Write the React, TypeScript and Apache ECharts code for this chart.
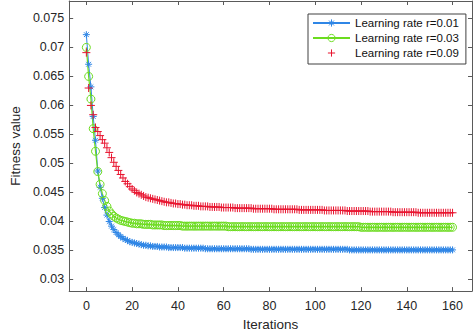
import React, { useEffect, useRef } from "react";
import * as echarts from "echarts";

const iterations: number[] = Array.from({ length: 161 }, (_, i) => i);

const rate001: number[] = [
  0.0722, 0.0671, 0.0632, 0.0581, 0.054, 0.0487, 0.0459, 0.044, 0.0424, 0.0411,
  0.04, 0.0392, 0.0386, 0.0381, 0.0377, 0.0374, 0.0371, 0.0369, 0.0367, 0.0365,
  0.0364, 0.0363, 0.0362, 0.0361, 0.036, 0.0359, 0.0359, 0.0358, 0.0358, 0.0357,
  0.0357, 0.0357, 0.0356, 0.0356, 0.0356, 0.0356, 0.0355, 0.0355, 0.0355, 0.0355,
  0.0355, 0.0355, 0.0355, 0.0354, 0.0354, 0.0354, 0.0354, 0.0354, 0.0354, 0.0354,
  0.0354, 0.0354, 0.0353, 0.0353, 0.0353, 0.0353, 0.0353, 0.0353, 0.0353, 0.0353,
  0.0353, 0.0353, 0.0353, 0.0353, 0.0353, 0.0353, 0.0353, 0.0353, 0.0353, 0.0353,
  0.0353, 0.0353, 0.0352, 0.0352, 0.0352, 0.0352, 0.0352, 0.0352, 0.0352, 0.0352,
  0.0352, 0.0352, 0.0352, 0.0352, 0.0352, 0.0352, 0.0352, 0.0352, 0.0352, 0.0352,
  0.0352, 0.0352, 0.0352, 0.0352, 0.0352, 0.0352, 0.0352, 0.0352, 0.0352, 0.0352,
  0.0352, 0.0352, 0.0352, 0.0352, 0.0352, 0.0352, 0.0352, 0.0352, 0.0352, 0.0352,
  0.0352, 0.0352, 0.0352, 0.0352, 0.0352, 0.0351, 0.0351, 0.0351, 0.0351, 0.0351,
  0.0351, 0.0351, 0.0351, 0.0351, 0.0351, 0.0351, 0.0351, 0.0351, 0.0351, 0.0351,
  0.0351, 0.0351, 0.0351, 0.0351, 0.0351, 0.0351, 0.0351, 0.0351, 0.0351, 0.0351,
  0.0351, 0.0351, 0.0351, 0.0351, 0.0351, 0.0351, 0.0351, 0.0351, 0.0351, 0.0351,
  0.0351, 0.0351, 0.0351, 0.0351, 0.0351, 0.0351, 0.0351, 0.0351, 0.0351, 0.0351,
  0.0351,
];

const rate003: number[] = [
  0.07, 0.065, 0.0611, 0.056, 0.0521, 0.0486, 0.0464, 0.0448, 0.0436, 0.0426,
  0.0418, 0.0413, 0.0409, 0.0406, 0.0404, 0.0402, 0.0401, 0.04, 0.0399, 0.0398,
  0.0397, 0.0397, 0.0396, 0.0396, 0.0396, 0.0395, 0.0395, 0.0395, 0.0395, 0.0394,
  0.0394, 0.0394, 0.0394, 0.0394, 0.0393, 0.0393, 0.0393, 0.0393, 0.0393, 0.0393,
  0.0393, 0.0393, 0.0392, 0.0392, 0.0392, 0.0392, 0.0392, 0.0392, 0.0392, 0.0392,
  0.0392, 0.0392, 0.0392, 0.0392, 0.0392, 0.0392, 0.0392, 0.0392, 0.0392, 0.0392,
  0.0392, 0.0392, 0.0391, 0.0391, 0.0391, 0.0391, 0.0391, 0.0391, 0.0391, 0.0391,
  0.0391, 0.0391, 0.0391, 0.0391, 0.0391, 0.0391, 0.0391, 0.0391, 0.0391, 0.0391,
  0.0391, 0.0391, 0.0391, 0.0391, 0.0391, 0.0391, 0.0391, 0.0391, 0.0391, 0.0391,
  0.0391, 0.0391, 0.0391, 0.0391, 0.0391, 0.0391, 0.0391, 0.0391, 0.0391, 0.0391,
  0.0391, 0.0391, 0.0391, 0.0391, 0.0391, 0.0391, 0.0391, 0.0391, 0.0391, 0.0391,
  0.0391, 0.0391, 0.0391, 0.0391, 0.0391, 0.0391, 0.0391, 0.0391, 0.0391, 0.0391,
  0.039, 0.039, 0.039, 0.039, 0.039, 0.039, 0.039, 0.039, 0.039, 0.039,
  0.039, 0.039, 0.039, 0.039, 0.039, 0.039, 0.039, 0.039, 0.039, 0.039,
  0.039, 0.039, 0.039, 0.039, 0.039, 0.039, 0.039, 0.039, 0.039, 0.039,
  0.039, 0.039, 0.039, 0.039, 0.039, 0.039, 0.039, 0.039, 0.039, 0.039,
  0.039,
];

const rate009: number[] = [
  0.0691, 0.063, 0.06, 0.0584, 0.0562, 0.0555, 0.0548, 0.0541, 0.0535, 0.0527,
  0.0519, 0.051, 0.0502, 0.0495, 0.0488, 0.0481, 0.0475, 0.0469, 0.0465, 0.046,
  0.0456, 0.0453, 0.045, 0.0448, 0.0446, 0.0444, 0.0442, 0.0441, 0.044, 0.0439,
  0.0438, 0.0437, 0.0436, 0.0435, 0.0434, 0.0433, 0.0433, 0.0432, 0.0431, 0.0431,
  0.043, 0.043, 0.0429, 0.0429, 0.0428, 0.0428, 0.0428, 0.0427, 0.0427, 0.0427,
  0.0426, 0.0426, 0.0426, 0.0426, 0.0425, 0.0425, 0.0425, 0.0425, 0.0425, 0.0424,
  0.0424, 0.0424, 0.0424, 0.0424, 0.0424, 0.0423, 0.0423, 0.0423, 0.0423, 0.0423,
  0.0423, 0.0423, 0.0423, 0.0422, 0.0422, 0.0422, 0.0422, 0.0422, 0.0422, 0.0422,
  0.0422, 0.0422, 0.0421, 0.0421, 0.0421, 0.0421, 0.0421, 0.0421, 0.0421, 0.0421,
  0.0421, 0.0421, 0.0421, 0.042, 0.042, 0.042, 0.042, 0.042, 0.042, 0.042,
  0.042, 0.042, 0.042, 0.042, 0.0419, 0.0419, 0.0419, 0.0419, 0.0419, 0.0419,
  0.0419, 0.0419, 0.0419, 0.0419, 0.0418, 0.0418, 0.0418, 0.0418, 0.0418, 0.0418,
  0.0418, 0.0418, 0.0418, 0.0418, 0.0417, 0.0417, 0.0417, 0.0417, 0.0417, 0.0417,
  0.0417, 0.0417, 0.0417, 0.0417, 0.0416, 0.0416, 0.0416, 0.0416, 0.0416, 0.0416,
  0.0416, 0.0416, 0.0416, 0.0416, 0.0416, 0.0415, 0.0415, 0.0415, 0.0415, 0.0415,
  0.0415, 0.0415, 0.0415, 0.0415, 0.0415, 0.0415, 0.0415, 0.0415, 0.0415, 0.0415,
  0.0415,
];

const seriesNames: string[] = [
  "Learning rate r=0.01",
  "Learning rate r=0.03",
  "Learning rate r=0.09",
];

const xTicks: number[] = [0, 20, 40, 60, 80, 100, 120, 140, 160];
const yTicks: number[] = [0.03, 0.035, 0.04, 0.045, 0.05, 0.055, 0.06, 0.065, 0.07, 0.075];

const BLUE = "#2f86e6";
const GREEN = "#6bdc1e";
const RED = "#e8142f";
const AXIS = "#5a5a5a";
const TEXT = "#262626";
const FONT = "'Liberation Sans', Arial, sans-serif";

const ASTERISK = "path://M0 5L10 5M5 0L5 10M1.6 1.6L8.4 8.4M8.4 1.6L1.6 8.4";
const PLUS = "path://M0 5L10 5M5 0L5 10";

export default function App() {
  const ref = useRef<HTMLDivElement>(null);

  useEffect(() => {
    if (!ref.current) return;
    const chart = echarts.init(ref.current, null, { renderer: "svg" });

    const pair = (vals: number[]) => iterations.map((x, i) => [x, vals[i]]);
    const fmtY = (v: number) => String(+v.toFixed(3));

    const xBase = {
      type: "value",
      min: -7.5,
      max: 168.5,
      splitLine: { show: false },
      axisLine: { show: true, onZero: false, lineStyle: { color: AXIS, width: 1 } },
      axisTick: { show: true, inside: true, length: 4, customValues: xTicks, lineStyle: { color: AXIS } },
    };
    const yBase = {
      type: "value",
      min: 0.028,
      max: 0.078,
      splitLine: { show: false },
      axisLine: { show: true, onZero: false, lineStyle: { color: AXIS, width: 1 } },
      axisTick: { show: true, inside: true, length: 4, customValues: yTicks, lineStyle: { color: AXIS } },
    };

    chart.setOption({
      animation: false,
      backgroundColor: "#ffffff",
      textStyle: { fontFamily: FONT },
      grid: { left: 57, right: 2, top: 1, bottom: 40, containLabel: false },
      legend: {
        orient: "vertical",
        left: 308,
        top: 14,
        data: seriesNames,
        itemWidth: 37,
        itemHeight: 9,
        itemGap: 1,
        padding: [2, 7, 4, 4],
        borderColor: "#404040",
        borderWidth: 1,
        backgroundColor: "#ffffff",
        selectedMode: false,
        itemStyle: { borderWidth: 1 },
        textStyle: { fontSize: 11.5, color: "#111111", fontFamily: FONT, lineHeight: 14 },
      },
      xAxis: [
        {
          ...xBase,
          position: "bottom",
          name: "Iterations",
          nameLocation: "middle",
          nameGap: 24,
          nameTextStyle: { fontSize: 13.5, color: TEXT, fontFamily: FONT },
          axisLabel: {
            show: true,
            customValues: xTicks,
            margin: 8,
            fontSize: 12.5,
            color: TEXT,
            fontFamily: FONT,
          },
        },
        {
          ...xBase,
          position: "top",
          axisLabel: { show: false },
        },
      ],
      yAxis: [
        {
          ...yBase,
          position: "left",
          name: "Fitness value",
          nameLocation: "middle",
          nameGap: 43,
          nameTextStyle: { fontSize: 13.5, color: TEXT, fontFamily: FONT },
          axisLabel: {
            show: true,
            customValues: yTicks,
            margin: 5,
            fontSize: 12.5,
            color: TEXT,
            fontFamily: FONT,
            formatter: fmtY,
          },
        },
        {
          ...yBase,
          position: "right",
          axisLabel: { show: false },
        },
      ],
      series: [
        {
          name: seriesNames[0],
          type: "line",
          data: pair(rate001),
          xAxisIndex: 0,
          yAxisIndex: 0,
          symbol: ASTERISK,
          symbolSize: 7,
          showAllSymbol: true,
          lineStyle: { color: BLUE, width: 1 },
          itemStyle: { color: BLUE, borderColor: BLUE, borderWidth: 1 },
          emphasis: { disabled: true },
        },
        {
          name: seriesNames[1],
          type: "line",
          data: pair(rate003),
          xAxisIndex: 0,
          yAxisIndex: 0,
          symbol: "circle",
          symbolSize: 8,
          showAllSymbol: true,
          lineStyle: { color: GREEN, width: 1.2 },
          itemStyle: { color: "rgba(0,0,0,0)", borderColor: GREEN, borderWidth: 1 },
          emphasis: { disabled: true },
        },
        {
          name: seriesNames[2],
          type: "line",
          data: pair(rate009),
          xAxisIndex: 0,
          yAxisIndex: 0,
          symbol: PLUS,
          symbolSize: 8,
          showAllSymbol: true,
          lineStyle: { color: RED, width: 0, opacity: 0 },
          itemStyle: { color: RED, borderColor: RED, borderWidth: 1 },
          emphasis: { disabled: true },
        },
      ],
    });

    return () => chart.dispose();
  }, []);

  return (
    <div
      ref={ref}
      style={{ position: "fixed", left: 0, top: 0, width: 474, height: 336, background: "#fff" }}
    />
  );
}
